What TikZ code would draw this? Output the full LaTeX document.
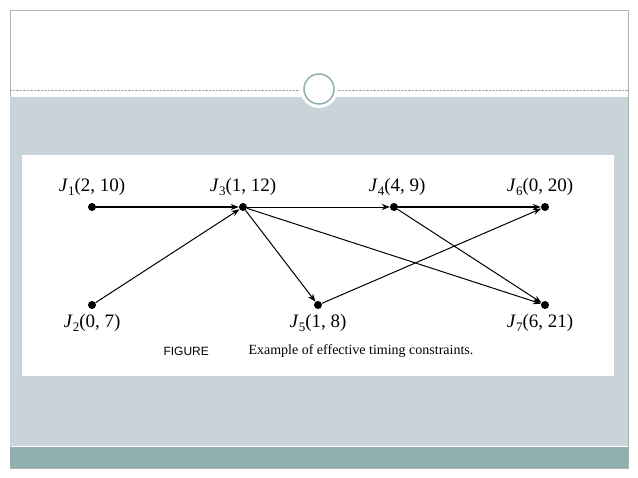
\documentclass[tikz,border=0pt]{standalone}
\usepackage{fontspec}
\setmainfont{Liberation Serif}
\setsansfont{Liberation Sans}
\usetikzlibrary{arrows.meta}
\newcommand{\jj}[2]{\textit{J}\raisebox{-0.25em}{\fontsize{13}{15}\selectfont #1}(#2)}
\begin{document}
\begin{tikzpicture}[x=1pt,y=-1pt,
  dot/.style={circle,fill=black,inner sep=0pt,minimum size=8pt},
  lab/.style={font=\fontsize{19}{22}\selectfont},
  edge/.style={-{Stealth[length=8pt,width=6pt]},line width=1pt},
  thick edge/.style={edge,line width=1.8pt}]
\useasboundingbox (0,0) rectangle (638,478);
\fill[white] (0,0) rectangle (638,478);
\draw[gray!60] (10,10) rectangle (628,468);
\fill[fill={rgb,255:red,200;green,212;blue,218}] (10,97) rectangle (628,446);
\fill[fill={rgb,255:red,143;green,176;blue,174}] (10,447) rectangle (628,468);
\draw[gray!70,densely dotted] (10,90) -- (628,90);
\fill[white] (319,89) circle (19);
\draw[fill=white,draw={rgb,255:red,143;green,176;blue,174},line width=1.5pt] (319,89) circle (15);
\fill[white] (22,155) rectangle (614,376);
\node[dot] (j1) at (92,207) {};
\node[dot] (j3) at (243,207) {};
\node[dot] (j4) at (394,207) {};
\node[dot] (j6) at (545,207) {};
\node[dot] (j2) at (92,305) {};
\node[dot] (j5) at (318,305) {};
\node[dot] (j7) at (545,305) {};
\node[lab] (l1) at (92,187) {\jj{1}{2, 10}};
\node[lab] (l3) at (243,187) {\jj{3}{1, 12}};
\node[lab] (l4) at (397,187) {\jj{4}{4, 9}};
\node[lab] (l6) at (540,187) {\jj{6}{0, 20}};
\node[lab] (l2) at (92,323) {\jj{2}{0, 7}};
\node[lab] (l5) at (318,323) {\jj{5}{1, 8}};
\node[lab] (l7) at (540,323) {\jj{7}{6, 21}};
\draw[thick edge] (j1) -- (j3);
\draw[edge,line width=0.8pt] (j3) -- (j4);
\draw[thick edge] (j4) -- (j6);
\draw[edge] (j2) -- (j3);
\draw[edge] (j3) -- (j5);
\draw[edge] (j3) -- (j7);
\draw[edge] (j4) -- (j7);
\draw[edge] (j5) -- (j6);
\node[font=\sffamily\fontsize{12}{14}\selectfont,anchor=west] (fig) at (160,351) {FIGURE};
\node[font=\fontsize{14}{16}\selectfont,anchor=west] (cap) at (245,351) {Example of effective timing constraints.};
\end{tikzpicture}
\end{document}
